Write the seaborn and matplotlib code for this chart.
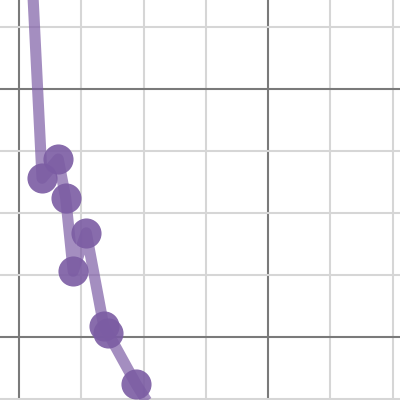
import numpy as np
import pandas as pd
import matplotlib
matplotlib.use('Agg')
import matplotlib.pyplot as plt
from matplotlib.ticker import MultipleLocator
import seaborn as sns

# points (graph units, one light grid square = 1)
x_vals = [0.18, 0.37, 0.63, 0.75, 0.87, 1.08, 1.36, 1.43, 1.88, 2.34]
y_vals = [6.40, 2.56, 2.87, 2.24, 1.06, 1.68, 0.18, 0.06, -0.76, -1.50]

df = pd.DataFrame({'x': x_vals, 'y': y_vals})

sns.set_style('white')

fig = plt.figure(figsize=(4, 4), dpi=100)
ax = fig.add_axes([0, 0, 1, 1])

# grid: light lines every unit, dark lines every 4 units
ax.xaxis.set_major_locator(MultipleLocator(4))
ax.yaxis.set_major_locator(MultipleLocator(4))
ax.xaxis.set_minor_locator(MultipleLocator(1))
ax.yaxis.set_minor_locator(MultipleLocator(1))
ax.grid(which='minor', color='#d6d6d6', linewidth=1.5)
ax.grid(which='major', color='#7a7a7a', linewidth=1.5)
ax.set_axisbelow(True)
ax.tick_params(which='both', length=0, labelbottom=False, labelleft=False)
for s in ax.spines.values():
    s.set_visible(False)

# line through the points in x order, then the points on top
sns.lineplot(data=df, x='x', y='y', ax=ax, color='#7e5ea6', alpha=0.7,
             linewidth=8, sort=True, solid_capstyle='butt')
sns.scatterplot(data=df, x='x', y='y', ax=ax, color='#7b5ca3', alpha=0.9,
                s=470, linewidth=0, zorder=3)

ax.set_xlim(-0.305, 6.116)
ax.set_ylim(-1.016, 5.435)
ax.set_xlabel('')
ax.set_ylabel('')

plt.savefig('out.png', dpi=100)
